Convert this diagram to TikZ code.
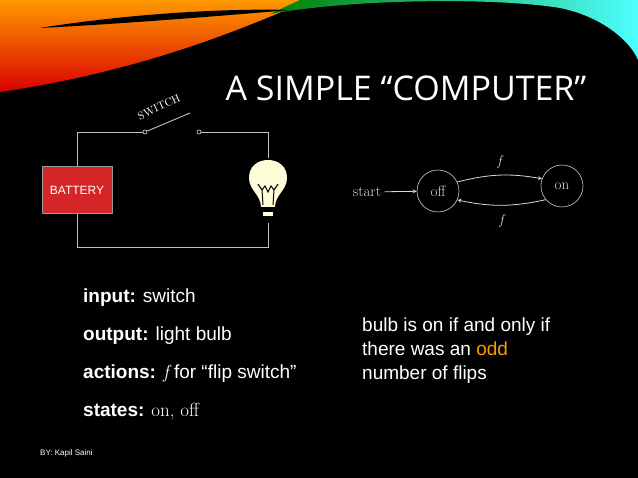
\documentclass[tikz,border=0pt]{standalone}
\usepackage{fontspec}
\setmainfont{Liberation Sans}
\newfontfamily\titlefont{Open Sans}
\newfontfamily\serifm{Latin Modern Roman}
\begin{document}
\begin{tikzpicture}[x=1pt,y=-1pt,
  wire/.style={draw=white!75!black,line width=0.9pt},
  st/.style={circle,draw=white!80!black,line width=0.6pt,minimum size=42pt,inner sep=0pt,text=white!85!black,font=\serifm\fontsize{15}{15}\selectfont},
  arr/.style={draw=white!85!black,line width=0.8pt,-stealth},
  lab/.style={text=white!85!black,font=\serifm\itshape\fontsize{14}{14}\selectfont},
  body/.style={anchor=base west,inner sep=0pt,text=white,font=\fontsize{19}{19}\selectfont}]
\fill[black] (0,0) rectangle (638,478);
\useasboundingbox (0,0) rectangle (638,478);
% swoosh
\shade[top color=orange!80!yellow,bottom color=red!85!black]
  (0,0) -- (310,0) .. controls (250,25) and (150,70) .. (0,92) -- cycle;
\shade[left color=green!50!black,right color=cyan!70!white]
  (270,14) .. controls (360,-2) and (500,-2) .. (560,8) .. controls (600,16) and (630,40) .. (638,60) -- (638,0) -- (300,0) -- cycle;
\fill[black] (40,28) .. controls (120,15) and (220,8) .. (290,10) .. controls (220,16) and (120,24) .. (40,28) -- cycle;
% title
\node[text=white,font=\titlefont\fontsize{34}{34}\selectfont] (title) at (406,88) {A SIMPLE “COMPUTER”};
% circuit
\node[fill=red!80!black!85!white,draw=white!60!black,minimum width=70pt,minimum height=47pt,text=white,font=\fontsize{12}{12}\selectfont] (bat) at (77,190) {BATTERY};
\coordinate (tl) at (77,132); \coordinate (bl) at (77,247);
\coordinate (br) at (268,247); \coordinate (tr) at (268,132);
\node[circle,draw=white!75!black,inner sep=0pt,minimum size=4pt,line width=0.7pt] (s1) at (145,132) {};
\node[circle,draw=white!75!black,inner sep=0pt,minimum size=4pt,line width=0.7pt] (s2) at (199,132) {};
\coordinate (lever) at (190,113);
\coordinate (btop) at (268,158);
\coordinate (bbot) at (268,223);
\draw[wire] (bat.north) -- (tl) -- (s1.west);
\draw[wire] (s1) -- (lever);
\draw[wire] (s2.east) -- (tr) -- (btop);
\draw[wire] (bat.south) -- (bl) -- (br) -- (bbot);
\node[rotate=25,text=white,font=\serifm\fontsize{11}{11}\selectfont,inner sep=1pt] (sw) at (159,107) {SWITCH};
% bulb
\fill[yellow!15!white] (261,207) .. controls (261,195) and (249,190) .. (249,178)
  .. controls (249,166) and (258,160) .. (268,160) .. controls (278,160) and (287,166) .. (287,178)
  .. controls (287,190) and (275,195) .. (275,207) -- cycle;
\draw[black,line width=1pt] (263,205) -- (262,190) -- (258,184) (273,205) -- (274,190) -- (278,184)
  (262,190) -- (265,186) -- (268,192) -- (271,186) -- (274,190);
\fill[yellow!15!white] (263,212) rectangle (273,216);
% state machine
\node[st] (off) at (438,191) {off};
\node[st] (on) at (562,186) {on};
\node[text=white!85!black,font=\serifm\fontsize{15}{15}\selectfont] (start) at (367,192) {start};
\draw[arr] (start) -- (off);
\draw[arr] (off.25) to[bend left=12] node[above=3pt,lab] {f} (on.160);
\draw[arr] (on.-140) to[bend left=12] node[below=6pt,lab] {f} (off.-25);
% text
\node[body] (t1) at (83,303) {\textbf{input:} switch};
\node[body] (t2) at (83,341) {\textbf{output:} light bulb};
\node[body] (t3) at (83,379) {\textbf{actions:} {\serifm\itshape f} for “flip switch”};
\node[body] (t4) at (83,417) {\textbf{states:} {\serifm on, off}};
\node[body] (r1) at (362,332) {bulb is on if and only if};
\node[body] (r2) at (362,356) {there was an \textcolor{orange!80!yellow}{odd}};
\node[body] (r3) at (362,380) {number of flips};
\node[anchor=base west,inner sep=0pt,text=white,font=\fontsize{8}{8}\selectfont] (by) at (40,456) {BY: Kapil Saini};
\end{tikzpicture}
\end{document}
